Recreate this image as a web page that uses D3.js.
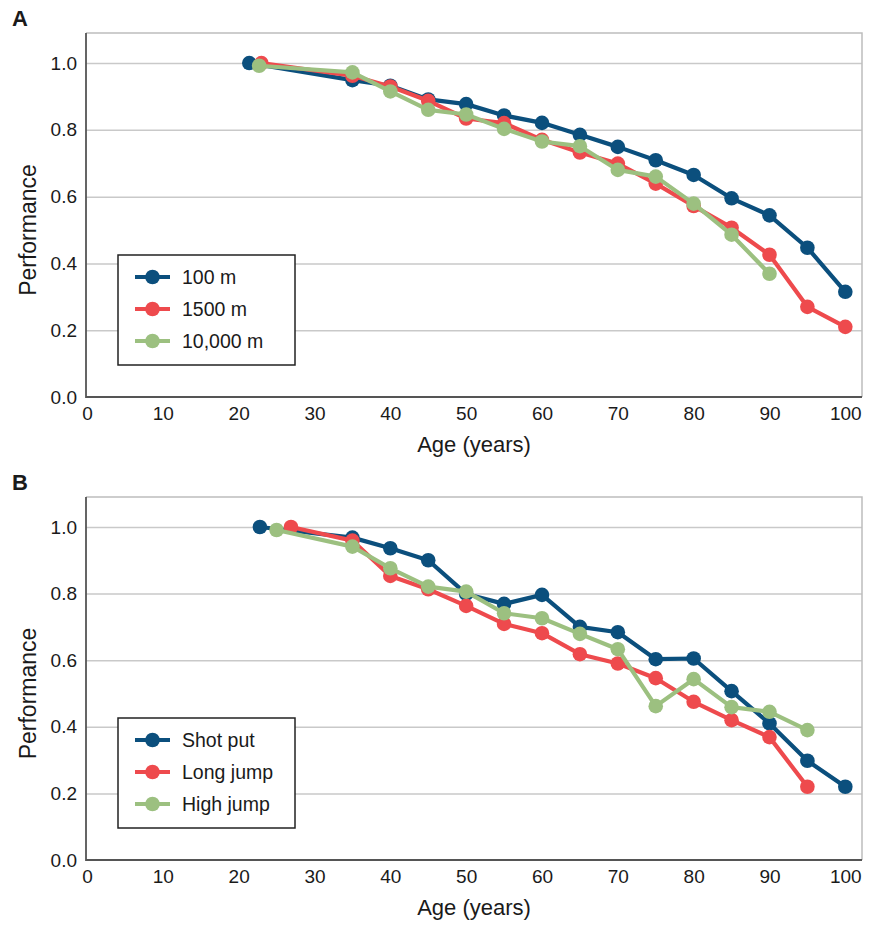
<!DOCTYPE html>
<html>
<head>
<meta charset="utf-8">
<script src="https://cdn.jsdelivr.net/npm/d3@7"></script>
<style>
  body { margin: 0; background: #fff; }
  text { font-family: "Liberation Sans", Arial, Helvetica, sans-serif; fill: #1a1a1a; }
</style>
</head>
<body>
<svg id="chart"></svg>
<script>
const WIDTH = 869;
const HEIGHT = 930;

const X_TICKS = [0, 10, 20, 30, 40, 50, 60, 70, 80, 90, 100];
const Y_TICKS = [0, 0.2, 0.4, 0.6, 0.8, 1.0];

// panel A: running
const AGE_100M = [21.4, 35, 40, 45, 50, 55, 60, 65, 70, 75, 80, 85, 90, 95, 100];
const PERF_100M = [1.0, 0.949, 0.932, 0.891, 0.877, 0.843, 0.821, 0.785, 0.749, 0.709, 0.665, 0.595, 0.544, 0.447, 0.315];
const AGE_1500M = [23, 35, 40, 45, 50, 55, 60, 65, 70, 75, 80, 85, 90, 95, 100];
const PERF_1500M = [1.0, 0.962, 0.93, 0.887, 0.834, 0.82, 0.77, 0.732, 0.699, 0.639, 0.572, 0.507, 0.426, 0.27, 0.21];
const AGE_10000M = [22.7, 35, 40, 45, 50, 55, 60, 65, 70, 75, 80, 85, 90];
const PERF_10000M = [0.992, 0.972, 0.915, 0.86, 0.846, 0.803, 0.765, 0.751, 0.68, 0.66, 0.579, 0.486, 0.369];

// panel B: throwing / jumping
const AGE_SHOT = [22.8, 35, 40, 45, 50, 55, 60, 65, 70, 75, 80, 85, 90, 95, 100];
const PERF_SHOT = [1.0, 0.968, 0.936, 0.9, 0.799, 0.769, 0.796, 0.7, 0.684, 0.603, 0.605, 0.507, 0.41, 0.298, 0.22];
const AGE_LONG = [26.9, 35, 40, 45, 50, 55, 60, 65, 70, 75, 80, 85, 90, 95];
const PERF_LONG = [1.0, 0.959, 0.853, 0.813, 0.763, 0.709, 0.681, 0.618, 0.59, 0.546, 0.475, 0.42, 0.369, 0.22];
const AGE_HIGH = [25, 35, 40, 45, 50, 55, 60, 65, 70, 75, 80, 85, 90, 95];
const PERF_HIGH = [0.991, 0.941, 0.876, 0.821, 0.806, 0.741, 0.726, 0.679, 0.633, 0.462, 0.543, 0.459, 0.445, 0.39];

const BLUE = "#0b4f7d";
const RED = "#ee4a4d";
const GREEN = "#9cc080";

const svg = d3.select("#chart")
  .attr("width", WIDTH)
  .attr("height", HEIGHT);

const MARGIN = { left: 86, right: 7 };

function zip(ages, perf) {
  return ages.map((a, i) => ({ age: a, perf: perf[i] }));
}

function drawPanel(letter, top, bottom, series) {
  const g = svg.append("g");

  const x = d3.scaleLinear()
    .domain([0, 102.2])
    .range([MARGIN.left + 1, WIDTH - MARGIN.right]);

  const y = d3.scaleLinear()
    .domain([0, 1.09])
    .range([bottom, top]);

  // grid
  g.append("g")
    .attr("transform", `translate(${MARGIN.left}, 0)`)
    .call(d3.axisLeft(y).tickValues(Y_TICKS.slice(1)).tickSize(-(WIDTH - MARGIN.right - MARGIN.left)).tickFormat(""))
    .call(s => s.select(".domain").remove())
    .selectAll("line")
    .attr("stroke", "#c9c9c9")
    .attr("stroke-width", 1.5);

  // frame: light top/right, dark left/bottom
  g.append("path")
    .attr("d", `M${MARGIN.left},${top}H${WIDTH - MARGIN.right}V${bottom}`)
    .attr("fill", "none")
    .attr("stroke", "#bdbdbd")
    .attr("stroke-width", 1.5);
  g.append("path")
    .attr("d", `M${MARGIN.left},${top}V${bottom}H${WIDTH - MARGIN.right}`)
    .attr("fill", "none")
    .attr("stroke", "#555")
    .attr("stroke-width", 1.8);

  // axes labels
  g.append("g")
    .attr("transform", `translate(0, ${bottom})`)
    .call(d3.axisBottom(x).tickValues(X_TICKS).tickSize(0).tickPadding(9.5))
    .call(s => s.select(".domain").remove())
    .selectAll("text")
    .attr("font-size", 19)
    .attr("fill", "#1a1a1a");

  g.append("g")
    .attr("transform", `translate(${MARGIN.left}, 0)`)
    .call(d3.axisLeft(y).tickValues(Y_TICKS).tickSize(0).tickPadding(9).tickFormat(d3.format(".1f")))
    .call(s => s.select(".domain").remove())
    .selectAll("text")
    .attr("font-size", 19)
    .attr("fill", "#1a1a1a");

  g.append("text")
    .attr("x", (MARGIN.left + WIDTH - MARGIN.right) / 2)
    .attr("y", bottom + 55)
    .attr("text-anchor", "middle")
    .attr("font-size", 22)
    .text("Age (years)");

  g.append("text")
    .attr("transform", `translate(36, ${y(0.5)}) rotate(-90)`)
    .attr("text-anchor", "middle")
    .attr("font-size", 23)
    .text("Performance");

  g.append("text")
    .attr("x", 12)
    .attr("y", top - 7)
    .attr("font-size", 22)
    .attr("font-weight", "bold")
    .text(letter);

  const line = d3.line().x(d => x(d.age)).y(d => y(d.perf));

  series.forEach(s => {
    const data = zip(s.ages, s.perf);
    g.append("path")
      .datum(data)
      .attr("fill", "none")
      .attr("stroke", s.color)
      .attr("stroke-width", 4.2)
      .attr("stroke-linejoin", "round")
      .attr("d", line);
    g.append("g")
      .selectAll("circle")
      .data(data)
      .enter()
      .append("circle")
      .attr("cx", d => x(d.age))
      .attr("cy", d => y(d.perf))
      .attr("r", 7.3)
      .attr("fill", s.color);
  });

  // legend
  const lx = 118, ly = bottom - 142;
  const leg = g.append("g").attr("transform", `translate(${lx}, ${ly})`);
  leg.append("rect")
    .attr("width", 177)
    .attr("height", 110)
    .attr("fill", "#fff")
    .attr("stroke", "#222")
    .attr("stroke-width", 1.5);
  series.forEach((s, i) => {
    const cy = 22 + i * 32;
    leg.append("line")
      .attr("x1", 17).attr("x2", 52)
      .attr("y1", cy).attr("y2", cy)
      .attr("stroke", s.color)
      .attr("stroke-width", 4.2);
    leg.append("circle")
      .attr("cx", 34.5).attr("cy", cy).attr("r", 7.3)
      .attr("fill", s.color);
    leg.append("text")
      .attr("x", 64)
      .attr("y", cy + 7)
      .attr("font-size", 19.5)
      .text(s.name);
  });
}

drawPanel("A", 33, 397, [
  { name: "100 m", ages: AGE_100M, perf: PERF_100M, color: BLUE },
  { name: "1500 m", ages: AGE_1500M, perf: PERF_1500M, color: RED },
  { name: "10,000 m", ages: AGE_10000M, perf: PERF_10000M, color: GREEN }
]);

drawPanel("B", 497, 860, [
  { name: "Shot put", ages: AGE_SHOT, perf: PERF_SHOT, color: BLUE },
  { name: "Long jump", ages: AGE_LONG, perf: PERF_LONG, color: RED },
  { name: "High jump", ages: AGE_HIGH, perf: PERF_HIGH, color: GREEN }
]);
</script>
</body>
</html>
